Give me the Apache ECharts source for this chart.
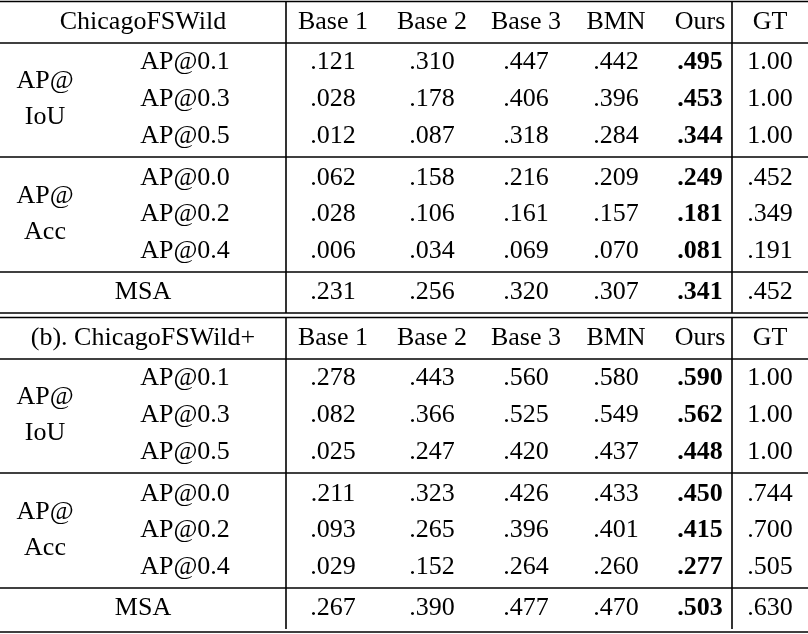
<!DOCTYPE html><html><head><meta charset="utf-8">
<script src="https://cdn.jsdelivr.net/npm/echarts@6/dist/echarts.min.js"></script>
<style>html,body{margin:0;background:#fff}#c{width:808px;height:634px}</style></head><body><div id="c"></div>
<script>
const columns = ['Base 1','Base 2','Base 3','BMN','Ours','GT'];
const titles = ['ChicagoFSWild','(b). ChicagoFSWild+'];
const groups = [['AP@','IoU'],['AP@','Acc']];
const rowLabels = [['AP@0.1','AP@0.3','AP@0.5'],['AP@0.0','AP@0.2','AP@0.4'],['MSA']];
const tableA = [
 ['.121','.310','.447','.442','.495','1.00'],
 ['.028','.178','.406','.396','.453','1.00'],
 ['.012','.087','.318','.284','.344','1.00'],
 ['.062','.158','.216','.209','.249','.452'],
 ['.028','.106','.161','.157','.181','.349'],
 ['.006','.034','.069','.070','.081','.191'],
 ['.231','.256','.320','.307','.341','.452']];
const tableB = [
 ['.278','.443','.560','.580','.590','1.00'],
 ['.082','.366','.525','.549','.562','1.00'],
 ['.025','.247','.420','.437','.448','1.00'],
 ['.211','.323','.426','.433','.450','.744'],
 ['.093','.265','.396','.401','.415','.700'],
 ['.029','.152','.264','.260','.277','.505'],
 ['.267','.390','.477','.470','.503','.630']];
const boldCol = 4;

const F = '"Liberation Serif","DejaVu Serif",serif', FS = 26;
const colX = [333,432,526,616,700,770];
const els = [];
function txt(x,y,s,bold){els.push({type:'text',x,y,style:{text:s,font:(bold?'bold ':'')+FS+'px '+F,fill:'#000',align:'center',verticalAlign:'middle'}});}
function hl(y,w){els.push({type:'line',shape:{x1:0,y1:y,x2:808,y2:y},style:{stroke:'#000',lineWidth:w||1.6}});}
function vl(x,y1,y2){els.push({type:'line',shape:{x1:x,y1,x2:x,y2},style:{stroke:'#000',lineWidth:1.6}});}
function block(top,title,data){
  // top: y of header line top
  txt(143,top+21,title);
  columns.forEach((c,i)=>txt(colX[i],top+21,c));
  hl(top+42);
  const rowY=[top+61,top+98,top+135,top+177,top+213,top+250,top+291];
  hl(top+156); hl(top+271);
  groups.forEach((g,gi)=>{const cy=rowY[gi*3+1];txt(45,cy-18,g[0]);txt(45,cy+18,g[1]);});
  let r=0;
  rowLabels.forEach((rl,gi)=>rl.forEach(l=>{txt(gi==2?143:185,rowY[r],l);r++;}));
  data.forEach((row,ri)=>row.forEach((v,ci)=>txt(colX[ci],rowY[ri],v,ci===boldCol)));
  vl(286,top,top+312); vl(732,top,top+312);
}
hl(1.5);
block(1,titles[0],tableA);
hl(313); hl(317.5);
block(317,titles[1],tableB);
hl(632);
const chart=echarts.init(document.getElementById('c'));
chart.setOption({animation:false,graphic:els});
</script></body></html>
